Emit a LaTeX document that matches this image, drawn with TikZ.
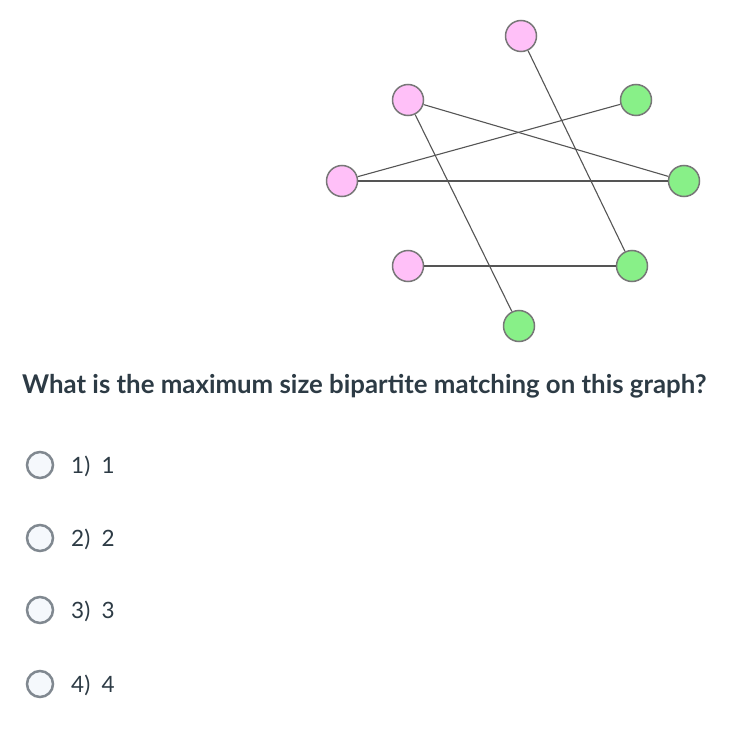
\documentclass[tikz,border=0pt]{standalone}
\usepackage{fontspec}
\setmainfont{Lato}
\definecolor{pk}{HTML}{FFC0F8}
\definecolor{gn}{HTML}{88F088}
\definecolor{ed}{HTML}{555555}
\definecolor{rd}{HTML}{F5F8FC}
\definecolor{rb}{HTML}{808890}
\definecolor{tx}{HTML}{2D3B45}
\begin{document}
\begin{tikzpicture}[x=1pt,y=-1pt,
  vtx/.style={circle,draw=ed!80,line width=1.5pt,minimum size=31pt,inner sep=0pt},
  pv/.style={vtx,fill=pk}, gv/.style={vtx,fill=gn},
  edg/.style={draw=ed,line width=1.1pt},
  radio/.style={circle,draw=rb,line width=2.5pt,fill=rd,minimum size=26pt,inner sep=0pt},
  opt/.style={anchor=west,text=tx,font=\fontsize{22.5}{26}\selectfont}]
\useasboundingbox (0,0) rectangle (728,730);
\node[pv] (p1) at (521,36) {};
\node[pv] (p2) at (408,100) {};
\node[pv] (p3) at (342,181) {};
\node[pv] (p4) at (408,266) {};
\node[gv] (g1) at (636,100) {};
\node[gv] (g2) at (684,181) {};
\node[gv] (g3) at (632,266) {};
\node[gv] (g4) at (519,326) {};
\draw[edg] (p1) -- (g3);
\draw[edg] (p2) -- (g2);
\draw[edg] (p2) -- (g4);
\draw[edg] (p3) -- (g1);
\draw[edg] (p3) -- (g2);
\draw[edg] (p4) -- (g3);
\node[anchor=west,inner sep=0pt,text=tx,font=\fontsize{25.8}{30}\selectfont\bfseries] (q) at (22,386) {What is the maximum size bipartite matching on this graph?};
\node[radio] (r1) at (40,465) {}; \node[opt,inner sep=0pt] (o1) at (71,466) {1)\enspace 1};
\node[radio] (r2) at (40,538) {}; \node[opt,inner sep=0pt] (o2) at (71,539) {2)\enspace 2};
\node[radio] (r3) at (40,610) {}; \node[opt,inner sep=0pt] (o3) at (71,611) {3)\enspace 3};
\node[radio] (r4) at (40,684) {}; \node[opt,inner sep=0pt] (o4) at (71,685) {4)\enspace 4};
\end{tikzpicture}
\end{document}
